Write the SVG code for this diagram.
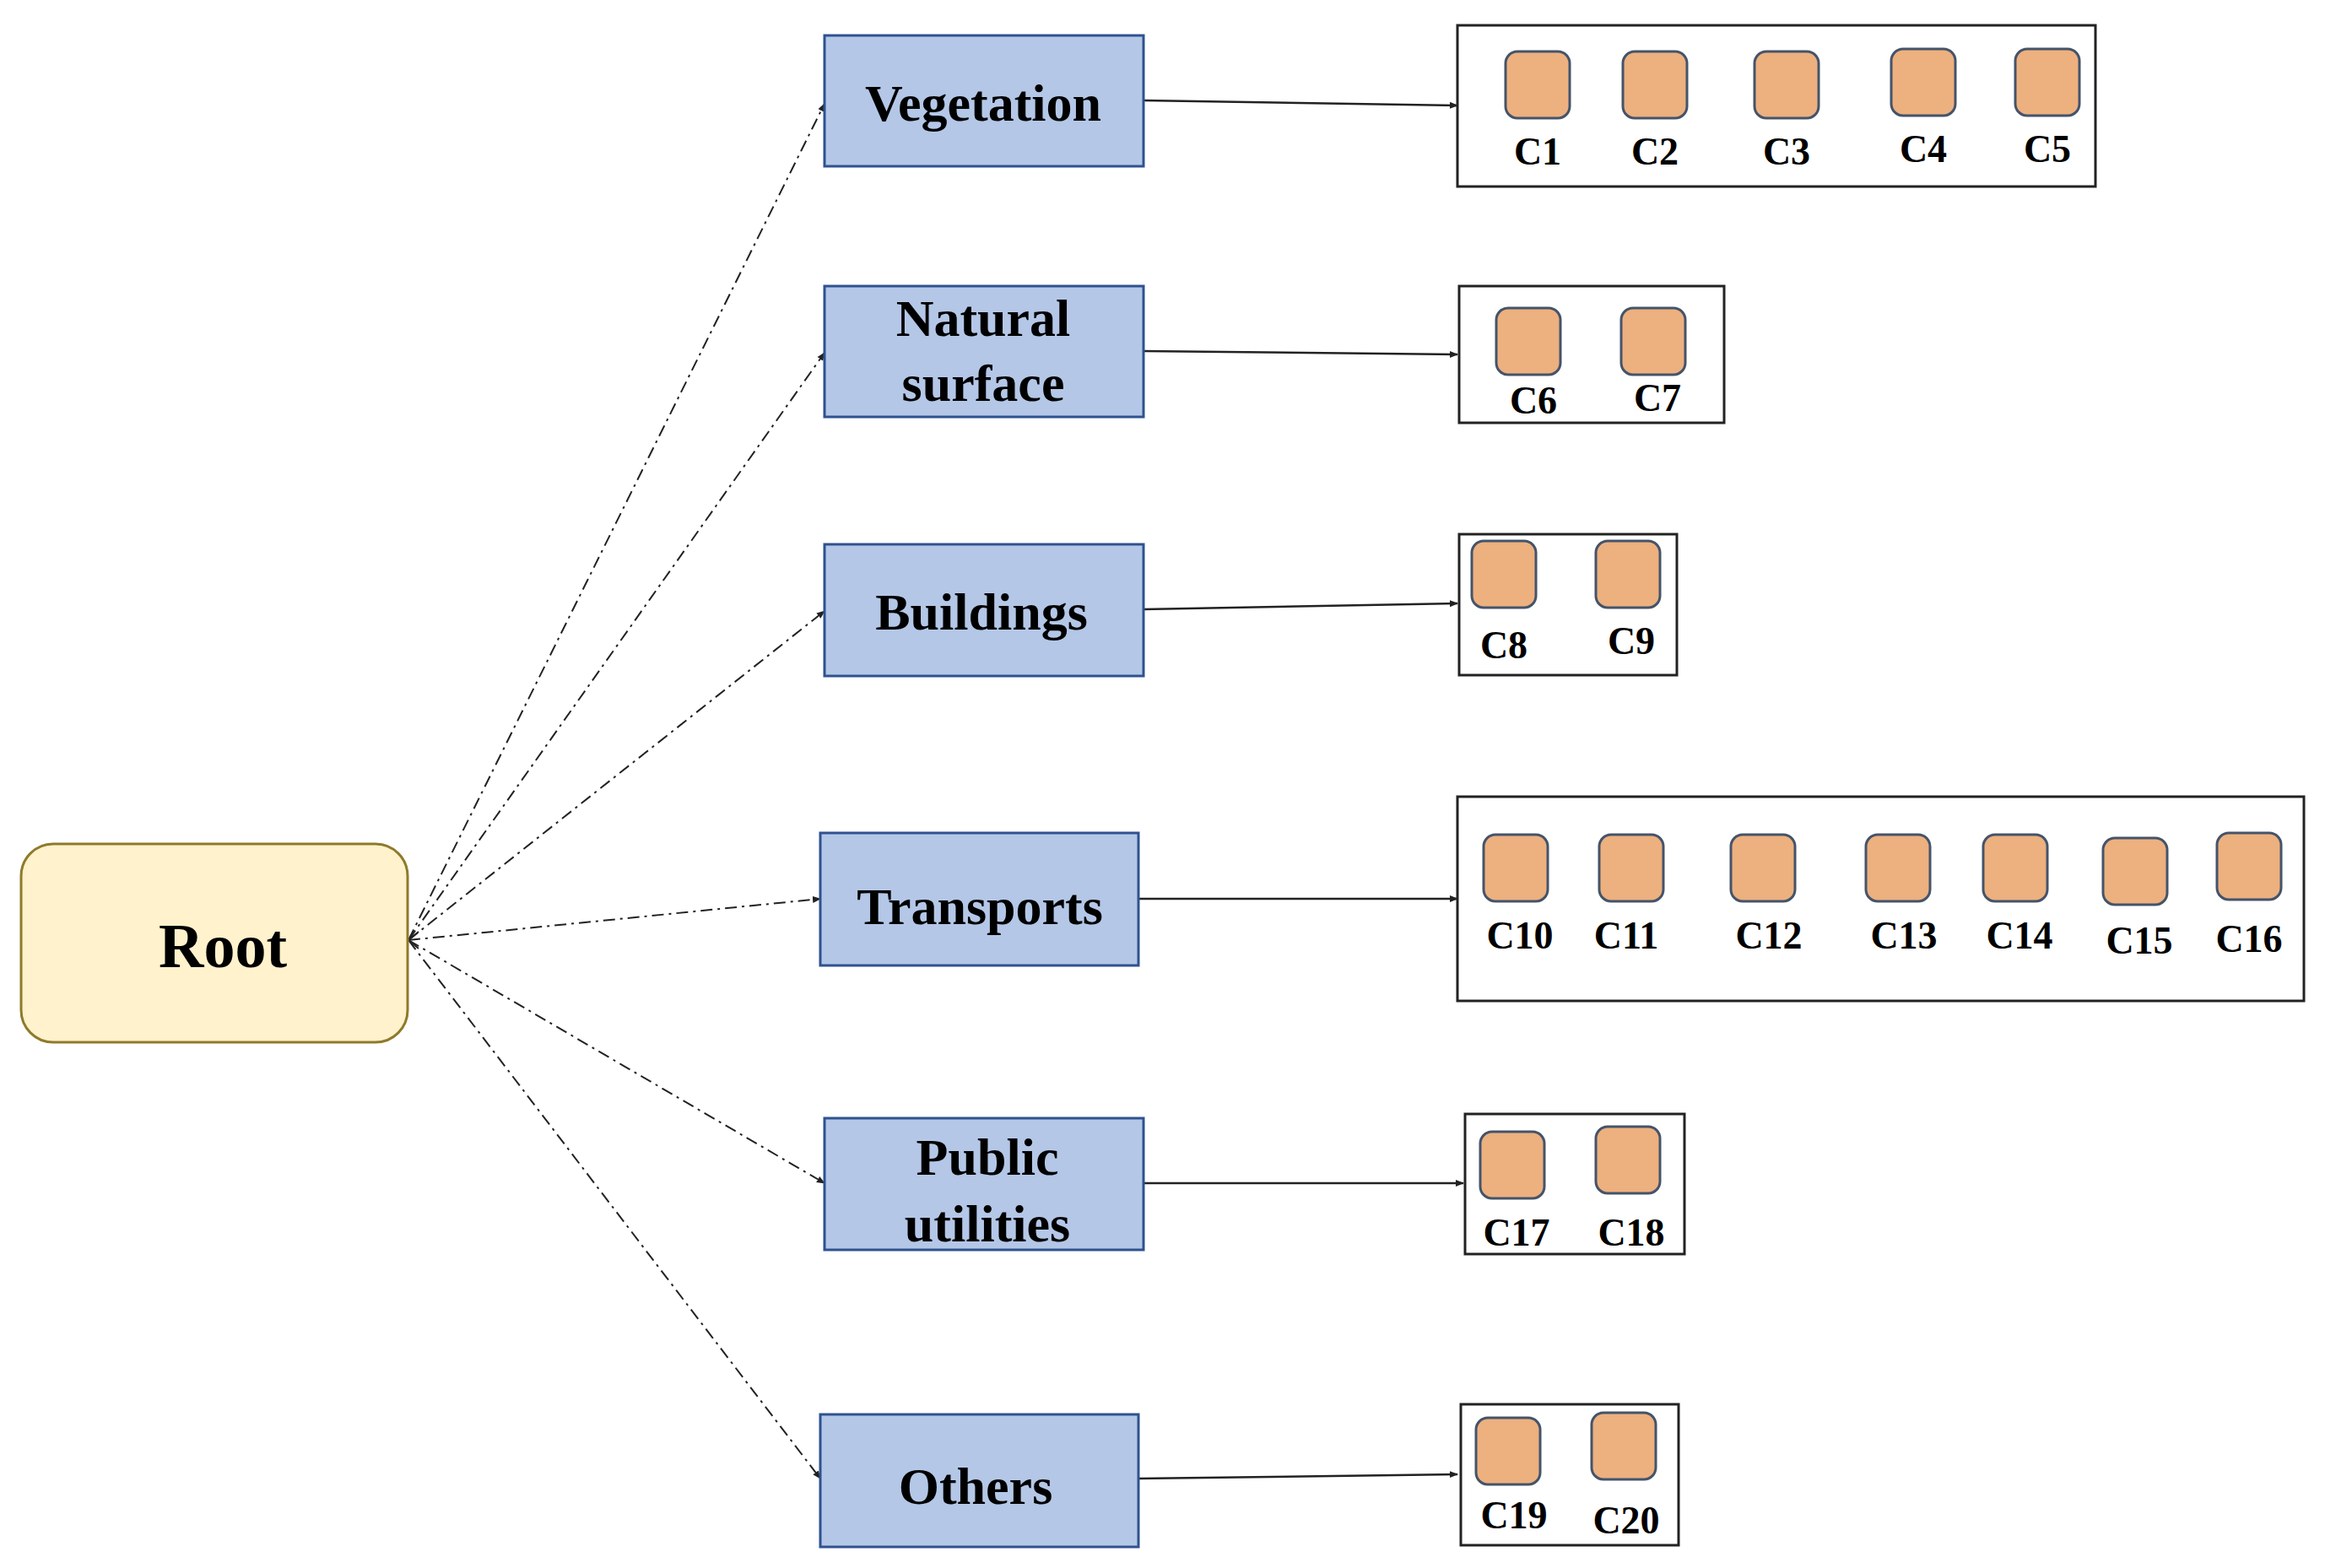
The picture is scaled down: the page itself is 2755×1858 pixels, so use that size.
<svg xmlns="http://www.w3.org/2000/svg" width="2755" height="1858" viewBox="0 0 2755 1858">
<style>
.cat{fill:#b4c7e7;stroke:#2f528f;stroke-width:3}
.box{fill:#fff;stroke:#222;stroke-width:3}
.sq{fill:#edb07f;stroke:#44546a;stroke-width:3}
.t{font-family:"Liberation Serif",serif;font-weight:bold;text-anchor:middle;fill:#000}
.ct{font-size:62px}
.lt{font-size:46px}
.solid{stroke:#222;stroke-width:2.5;fill:none;marker-end:url(#ah)}
.dd{stroke:#222;stroke-width:2;fill:none;stroke-dasharray:14 6 3 6;marker-end:url(#ah)}
</style>
<defs>
<marker id="ah" markerWidth="10" markerHeight="10" refX="9" refY="5" orient="auto" markerUnits="userSpaceOnUse"><path d="M0,1 L10,5 L0,9 z" fill="#222"/></marker>
</defs>
<rect width="2755" height="1858" fill="#fff"/>
<g id="connectors">
<path class="solid" d="M1355,119 L1727,125"/>
<path class="solid" d="M1355,416 L1727,420"/>
<path class="solid" d="M1355,722 L1727,715"/>
<path class="solid" d="M1349,1065 L1727,1065"/>
<path class="solid" d="M1355,1402 L1734,1402"/>
<path class="solid" d="M1349,1752 L1727,1747"/>
<path class="dd" d="M484,1114 L977,123"/>
<path class="dd" d="M484,1114 L977,418"/>
<path class="dd" d="M484,1114 L977,724"/>
<path class="dd" d="M484,1114 L972,1065"/>
<path class="dd" d="M484,1114 L977,1402"/>
<path class="dd" d="M484,1114 L972,1752"/>
<path d="M496,1104 L484,1114 L496,1124" stroke="#222" stroke-width="2" fill="none"/>
</g>
<g id="root"><rect x="25" y="1000" width="458" height="235" rx="38" fill="#fff2cc" stroke="#8f7a2a" stroke-width="3"/><text class="t" x="264" y="1146" font-size="74">Root</text></g>
<g id="vegetation"><rect class="cat" x="977" y="42" width="378" height="155"/><text class="t ct" x="1165" y="143">Vegetation</text></g>
<g id="natural"><rect class="cat" x="977" y="339" width="378" height="155"/><text class="t ct" x="1165" y="398">Natural</text><text class="t ct" x="1165" y="475">surface</text></g>
<g id="buildings"><rect class="cat" x="977" y="645" width="378" height="156"/><text class="t ct" x="1163" y="746">Buildings</text></g>
<g id="transports"><rect class="cat" x="972" y="987" width="377" height="157"/><text class="t ct" x="1161" y="1095">Transports</text></g>
<g id="public"><rect class="cat" x="977" y="1325" width="378" height="156"/><text class="t ct" x="1170" y="1392">Public</text><text class="t ct" x="1170" y="1471">utilities</text></g>
<g id="others"><rect class="cat" x="972" y="1676" width="377" height="157"/><text class="t ct" x="1156" y="1782">Others</text></g>
<g id="group1"><rect class="box" x="1727" y="30" width="756" height="191"/>
<rect class="sq" x="1784" y="61" width="76" height="79" rx="14"/><text class="t lt" x="1822" y="195">C1</text>
<rect class="sq" x="1923" y="61" width="76" height="79" rx="14"/><text class="t lt" x="1961" y="195">C2</text>
<rect class="sq" x="2079" y="61" width="76" height="79" rx="14"/><text class="t lt" x="2117" y="195">C3</text>
<rect class="sq" x="2241" y="58" width="76" height="79" rx="14"/><text class="t lt" x="2279" y="192">C4</text>
<rect class="sq" x="2388" y="58" width="76" height="79" rx="14"/><text class="t lt" x="2426" y="192">C5</text></g>
<g id="group2"><rect class="box" x="1729" y="339" width="314" height="162"/>
<rect class="sq" x="1773" y="365" width="76" height="79" rx="14"/><text class="t lt" x="1817" y="490">C6</text>
<rect class="sq" x="1921" y="365" width="76" height="79" rx="14"/><text class="t lt" x="1964" y="487">C7</text></g>
<g id="group3"><rect class="box" x="1729" y="633" width="258" height="167"/>
<rect class="sq" x="1744" y="641" width="76" height="79" rx="14"/><text class="t lt" x="1782" y="780">C8</text>
<rect class="sq" x="1891" y="641" width="76" height="79" rx="14"/><text class="t lt" x="1933" y="775">C9</text></g>
<g id="group4"><rect class="box" x="1727" y="944" width="1003" height="242"/>
<rect class="sq" x="1758" y="989" width="76" height="79" rx="14"/><text class="t lt" x="1801" y="1124">C10</text>
<rect class="sq" x="1895" y="989" width="76" height="79" rx="14"/><text class="t lt" x="1927" y="1124">C11</text>
<rect class="sq" x="2051" y="989" width="76" height="79" rx="14"/><text class="t lt" x="2096" y="1124">C12</text>
<rect class="sq" x="2211" y="989" width="76" height="79" rx="14"/><text class="t lt" x="2256" y="1124">C13</text>
<rect class="sq" x="2350" y="989" width="76" height="79" rx="14"/><text class="t lt" x="2393" y="1124">C14</text>
<rect class="sq" x="2492" y="993" width="76" height="79" rx="14"/><text class="t lt" x="2535" y="1130">C15</text>
<rect class="sq" x="2627" y="987" width="76" height="79" rx="14"/><text class="t lt" x="2665" y="1128">C16</text></g>
<g id="group5"><rect class="box" x="1736" y="1320" width="260" height="166"/>
<rect class="sq" x="1754" y="1341" width="76" height="79" rx="14"/><text class="t lt" x="1797" y="1476">C17</text>
<rect class="sq" x="1891" y="1335" width="76" height="79" rx="14"/><text class="t lt" x="1933" y="1476">C18</text></g>
<g id="group6"><rect class="box" x="1731" y="1664" width="258" height="167"/>
<rect class="sq" x="1749" y="1680" width="76" height="79" rx="14"/><text class="t lt" x="1794" y="1811">C19</text>
<rect class="sq" x="1886" y="1674" width="76" height="79" rx="14"/><text class="t lt" x="1927" y="1817">C20</text></g>
</svg>
